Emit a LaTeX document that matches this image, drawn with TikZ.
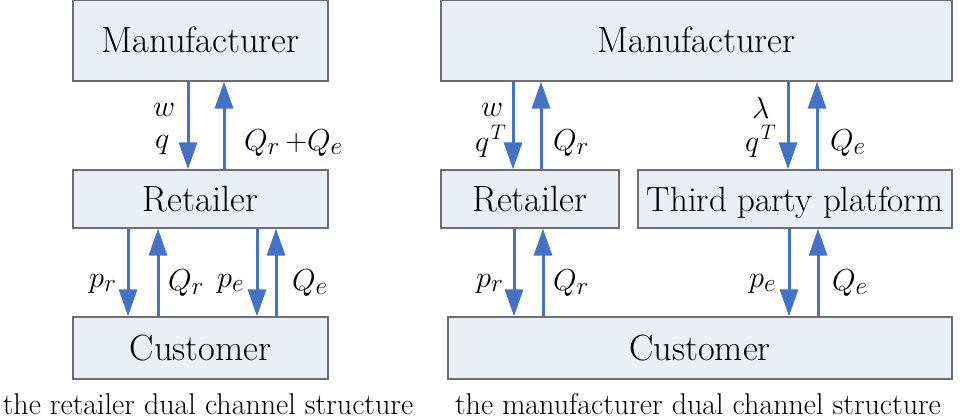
\documentclass[tikz,border=0pt]{standalone}
\usepackage{graphicx}
\usetikzlibrary{arrows.meta}
\definecolor{boxfill}{RGB}{233,238,247}
\definecolor{boxline}{RGB}{110,110,110}
\definecolor{arrowblue}{RGB}{68,114,196}
\newcommand\bigfont{\fontsize{36.5}{40}\selectfont}
\newcommand\labfont{\fontsize{24.88}{28}\selectfont}
\newcommand\ml[1]{\scalebox{1.22}{$#1$}}
\newcommand\qT{q^{\mkern1mu\scriptscriptstyle T}}
\tikzset{
  box/.style={draw=boxline, line width=1.2pt, fill=boxfill, inner sep=0pt,
    text height=25pt, text depth=0pt, font=\bigfont},
  arr/.style={draw=arrowblue, line width=3pt, -{Triangle[length=27pt,width=18pt]}},
  lab/.style={inner sep=0pt, anchor=base west, font=\labfont},
  captext/.style={inner sep=0pt, anchor=base, font=\fontsize{30}{34}\selectfont}
}
\begin{document}
\begin{tikzpicture}[x=1pt,y=-1pt]
\useasboundingbox (0,0) rectangle (969,420);
% left structure
\node[box, minimum width=255pt, minimum height=81pt] (m1) at (200.5,40.5) {Manufacturer};
\node[box, minimum width=255pt, minimum height=58pt] (r1) at (200.5,199) {Retailer};
\node[box, minimum width=255pt, minimum height=62pt] (c1) at (200.5,348) {Customer};
% right structure
\node[box, minimum width=511pt, minimum height=81pt] (m2) at (696.5,40.5) {Manufacturer};
\node[box, minimum width=178pt, minimum height=58pt] (r2) at (530,199) {Retailer};
\node[box, minimum width=314pt, minimum height=58pt, font=\fontsize{35}{40}\selectfont] (t2) at (795,199) {Third party platform};
\node[box, minimum width=504pt, minimum height=62pt] (c2) at (700,348) {Customer};
% arrow x positions
\coordinate (a1) at (188,0);
\coordinate (a2) at (224,0);
\coordinate (b1) at (128,0);
\coordinate (b2) at (158,0);
\coordinate (b3) at (257,0);
\coordinate (b4) at (276,0);
\coordinate (a3) at (513,0);
\coordinate (a4) at (541,0);
\coordinate (a5) at (788,0);
\coordinate (a6) at (817,0);
\coordinate (b5) at (514,0);
\coordinate (b6) at (543,0);
\coordinate (b7) at (789,0);
\coordinate (b8) at (818,0);
% left arrows
\draw[arr] (m1.south -| a1) -- (r1.north -| a1);
\draw[arr] (r1.north -| a2) -- (m1.south -| a2);
\draw[arr] (r1.south -| b1) -- (c1.north -| b1);
\draw[arr] (c1.north -| b2) -- (r1.south -| b2);
\draw[arr] (r1.south -| b3) -- (c1.north -| b3);
\draw[arr] (c1.north -| b4) -- (r1.south -| b4);
% right arrows
\draw[arr] (m2.south -| a3) -- (r2.north -| a3);
\draw[arr] (r2.north -| a4) -- (m2.south -| a4);
\draw[arr] (m2.south -| a5) -- (t2.north -| a5);
\draw[arr] (t2.north -| a6) -- (m2.south -| a6);
\draw[arr] (r2.south -| b5) -- (c2.north -| b5);
\draw[arr] (c2.north -| b6) -- (r2.south -| b6);
\draw[arr] (t2.south -| b7) -- (c2.north -| b7);
\draw[arr] (c2.north -| b8) -- (t2.south -| b8);
% left labels
\node[lab] (lw1) at (153,116) {\ml{w}};
\node[lab] (lq1) at (155,148) {\ml{q}};
\node[lab] (lqq) at (244,150) {\ml{Q_r\,{+}Q_e}};
\node[lab] (lpr1) at (89,287) {\ml{p_r}};
\node[lab] (lqr1) at (168,290) {\ml{Q_r}};
\node[lab] (lpe1) at (217,287) {\ml{p_e}};
\node[lab] (lqe1) at (292,290) {\ml{Q_e}};
% right labels
\node[lab] (lw2) at (481,116) {\ml{w}};
\node[lab] (lqt2) at (475,151) {\ml{\qT}};
\node[lab] (lqr2) at (553,150) {\ml{Q_r}};
\node[lab] (ll2) at (752,118) {\ml{\lambda}};
\node[lab] (lqt3) at (745,151) {\ml{\qT}};
\node[lab] (lqe2) at (830,150) {\ml{Q_e}};
\node[lab] (lpr2) at (476,287) {\ml{p_r}};
\node[lab] (lqr3) at (553,290) {\ml{Q_r}};
\node[lab] (lpe2) at (749,287) {\ml{p_e}};
\node[lab] (lqe3) at (832,290) {\ml{Q_e}};
% captions
\node[captext] (cap1) at (208,414) {the retailer dual channel structure};
\node[captext] (cap2) at (698,414) {the manufacturer dual channel structure};
\end{tikzpicture}
\end{document}
